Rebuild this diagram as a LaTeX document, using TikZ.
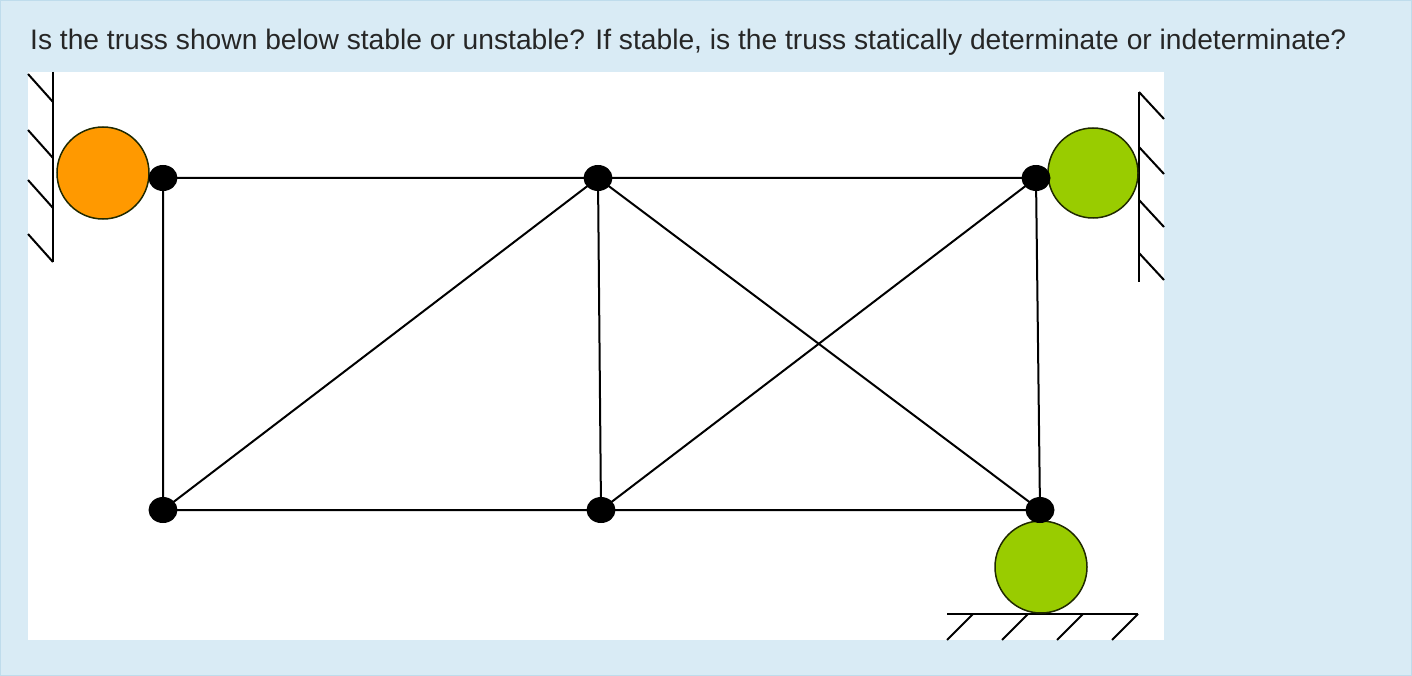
\documentclass[tikz,border=0pt]{standalone}
\usepackage{fontspec}
\setmainfont{Liberation Sans}
\definecolor{bg}{HTML}{D9EBF5}
\definecolor{bgedge}{HTML}{BFDCEC}
\definecolor{orng}{HTML}{FF9900}
\definecolor{grn}{HTML}{99CC00}
\tikzset{joint/.style={ellipse,fill=black,inner sep=0pt,minimum width=29pt,minimum height=26pt},
 member/.style={line width=2pt},
 support/.style={draw=black!80!grn,line width=1.5pt},
 hatch/.style={line width=2pt}}
\usetikzlibrary{shapes.geometric}
\begin{document}
\begin{tikzpicture}[x=1pt,y=-1pt]
\useasboundingbox (0,0) rectangle (1412,676);
\fill[bg,draw=bgedge,line width=1pt] (0.5,0.5) rectangle (1411.5,675.5);
\fill[white] (28,72) rectangle (1164,640);
\node[anchor=base west,inner sep=0pt,font=\fontsize{28.2}{32}\selectfont,text=black!85] (title) at (30,50) {Is the truss shown below stable or unstable? If stable, is the truss statically determinate or indeterminate?};
% supports
\draw[hatch] (53,72) -- (53,262);
\foreach \y in {102,158,208,262} \draw[hatch] (28,\y-28) -- (53,\y);
\draw[hatch] (1139,92) -- (1139,282);
\foreach \y in {92,147,200,253} \draw[hatch] (1139,\y) -- (1164,\y+27);
\draw[hatch] (947,614) -- (1138,614);
\foreach \x in {973,1028,1083,1138} \draw[hatch] (\x,614) -- (\x-26,640);
\node[support,fill=orng,circle,minimum size=92pt,inner sep=0pt] (s1) at (103,173) {};
\node[support,fill=grn,circle,minimum size=90pt,inner sep=0pt] (s2) at (1093,173) {};
\node[support,fill=grn,circle,minimum size=92pt,inner sep=0pt] (s3) at (1041,567) {};
% joints
\coordinate (A) at (163,178);
\coordinate (B) at (598,178);
\coordinate (C) at (1036,178);
\coordinate (D) at (163,510);
\coordinate (E) at (601,510);
\coordinate (F) at (1040,510);
\draw[member] (A)--(B)--(C)--(F)--(E)--(D)--(A);
\draw[member] (D)--(B)--(E)--(C);
\draw[member] (B)--(F);
\foreach \p in {A,B,C,D,E,F} \node[joint] (j\p) at (\p) {};
\end{tikzpicture}
\end{document}
